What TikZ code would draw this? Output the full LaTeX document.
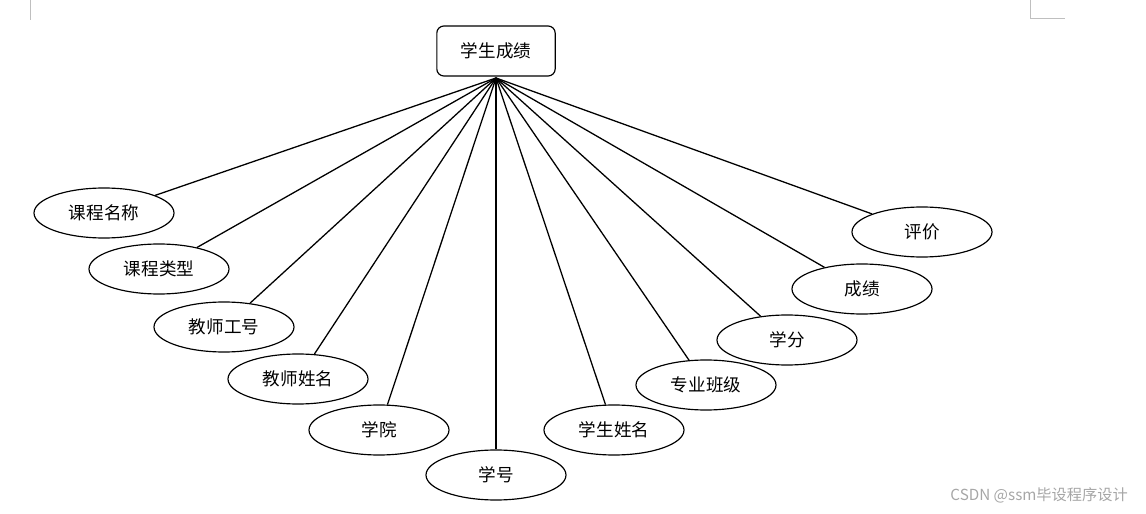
\documentclass[tikz,border=0pt]{standalone}
\usepackage{fontspec}
\setmainfont{Liberation Serif}
\newfontfamily\cjk{Noto Sans CJK SC}
\usetikzlibrary{shapes.geometric}
\begin{document}
\begin{tikzpicture}[x=0.03cm,y=-0.03cm,
  attr/.style={ellipse,draw,line width=1pt,minimum width=4.2cm,minimum height=1.5cm,inner sep=0pt,font=\cjk\fontsize{15}{18}\selectfont},
  ent/.style={rectangle,rounded corners=6pt,draw,line width=1pt,minimum width=3.55cm,minimum height=1.5cm,font=\cjk\fontsize{15}{18}\selectfont},
  link/.style={line width=1.1pt}]
\useasboundingbox (0,0) rectangle (1146,514);
\draw[gray!50] (30,0) -- (30,20);
\draw[gray!50] (1030,0) -- (1030,18) -- (1065,18);
\node[ent] (root) at (496,51) {学生成绩};
\coordinate (hub) at (496,78);
\node[attr] (a1) at (104,213) {课程名称};
\node[attr] (a2) at (159,269) {课程类型};
\node[attr] (a3) at (224,327) {教师工号};
\node[attr] (a4) at (298,379) {教师姓名};
\node[attr] (a5) at (379,430) {学院};
\node[attr] (a6) at (496,475) {学号};
\node[attr] (a7) at (614,430) {学生姓名};
\node[attr] (a8) at (706,385) {专业班级};
\node[attr] (a9) at (787,340) {学分};
\node[attr] (a10) at (862,289) {成绩};
\node[attr] (a11) at (922,232) {评价};
\foreach \n in {a1,a2,a3,a4,a5,a6,a7,a8,a9,a10,a11}
  \draw[link] (hub) -- (\n);
\node[font=\cjk\fontsize{13}{15}\selectfont,text=gray!70,anchor=east] (wm) at (1132,495) {CSDN @ssm毕设程序设计};
\end{tikzpicture}
\end{document}
